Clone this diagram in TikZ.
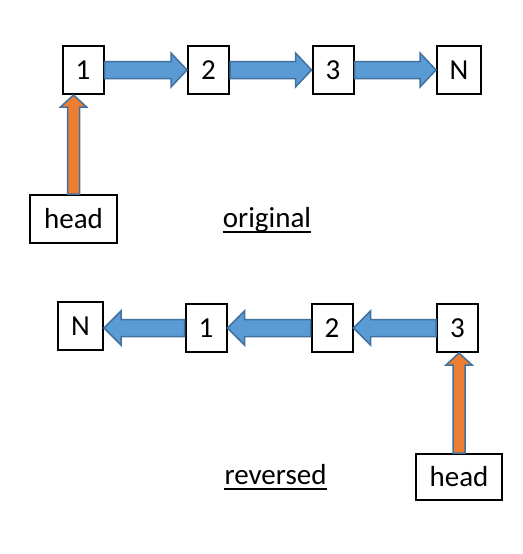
\documentclass[tikz,border=0pt]{standalone}
\usepackage{fontspec}
\setmainfont{Carlito}
\usetikzlibrary{calc}
\definecolor{arrblue}{HTML}{5B9BD5}
\definecolor{arredge}{HTML}{41719C}
\definecolor{arrorange}{HTML}{ED7D31}
\newcommand\blockarrow[6]{%
  \coordinate (bah) at ($(#3)!#6!(#2)$);
  \draw[#1] ($(#2)!#4!90:(#3)$) -- ($(bah)!#4!90:(#3)$) -- ($(bah)!#5!90:(#3)$)
    -- (#3) -- ($(bah)!#5!-90:(#3)$) -- ($(bah)!#4!-90:(#3)$) -- ($(#2)!#4!-90:(#3)$) -- cycle;
}
\begin{document}
\begin{tikzpicture}[x=1pt,y=-1pt,
  box/.style={draw=black,line width=2pt,fill=white,minimum width=41pt,minimum height=48pt,inner sep=0pt,
    font=\fontsize{29}{33}\selectfont},
  lbl/.style={inner sep=0pt,font=\fontsize{29}{33}\selectfont,anchor=base},
  bluearr/.style={fill=arrblue,draw=arredge,line width=1.5pt,line join=miter},
  orarr/.style={fill=arrorange,draw=arredge,line width=1.5pt,line join=miter}]
\useasboundingbox (0,0) rectangle (522,554);
% original
\node[box] (n1) at (83,70) {1};
\node[box] (n2) at (208.5,70) {2};
\node[box] (n3) at (333,70) {3};
\node[box,minimum width=44pt] (nN) at (459,70) {N};
\node[box,minimum width=87pt] (hd1) at (73.5,219) {head};
\node[lbl] (orig) at (267,227) {original};
\draw[line width=2pt] ($(orig.base west)+(0,5)$) -- ($(orig.base east)+(0,5)$);
\blockarrow{bluearr}{n1.east}{n2.west}{8.5pt}{17pt}{16pt}
\blockarrow{bluearr}{n2.east}{n3.west}{8.5pt}{17pt}{16pt}
\blockarrow{bluearr}{n3.east}{nN.west}{8.5pt}{17pt}{16pt}
\coordinate (o1) at (hd1.north |- n1.south);
\blockarrow{orarr}{hd1.north}{o1}{6pt}{13pt}{12pt}
% reversed
\node[box,minimum width=45pt] (mN) at (80.5,326) {N};
\node[box] (m1) at (206,328) {1};
\node[box] (m2) at (332,328) {2};
\node[box] (m3) at (457.5,328) {3};
\node[box,minimum width=86pt,minimum height=46pt] (hd2) at (459,477) {head};
\node[lbl] (rev) at (275.5,484) {reversed};
\draw[line width=2pt] ($(rev.base west)+(0,5)$) -- ($(rev.base east)+(0,5)$);
\coordinate (e0) at (mN.east |- m1.west);
\blockarrow{bluearr}{m1.west}{e0}{8.5pt}{17pt}{17pt}
\blockarrow{bluearr}{m2.west}{m1.east}{8.5pt}{17pt}{17pt}
\blockarrow{bluearr}{m3.west}{m2.east}{8.5pt}{17pt}{17pt}
\coordinate (o2) at (hd2.north |- m3.south);
\blockarrow{orarr}{hd2.north}{o2}{6pt}{13pt}{12pt}
\end{tikzpicture}
\end{document}
